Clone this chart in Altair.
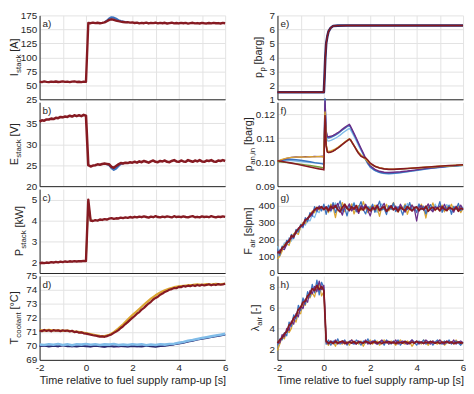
import altair as alt
import pandas as pd

FONT = "Liberation Sans"
DR = "#861a22"
BLUE = "#3b73bf"
LBLUE = "#80bce8"
YEL = "#dba632"
PURP = "#6a2d87"
GRN = "#7a9c3c"
NAVY = "#27286e"
TXT = "#262626"

# sampling grids (s)
T = [round(-2 + 0.1 * i, 1) for i in range(81)]
T2 = [round(-2 + 0.2 * i, 1) for i in range(41)]
T_BUMP_A = [0.8, 0.9, 1.0, 1.1, 1.2, 1.3, 1.4, 1.5, 1.6, 1.7, 1.8]
T_DIP_B = [0.9, 1.0, 1.1, 1.2, 1.3, 1.4, 1.5, 1.6]
T_SPIKE_C = [-0.2, -0.1, 0.0, 0.1, 0.2, 0.3]
T_E = [-2.0, -1.0, 0.0, 0.03, 0.06, 0.1, 0.15, 0.2, 0.3, 0.4, 0.6, 1.0, 2.0, 3.0, 4.0, 5.0, 6.0]
T_F = [-2.0, -1.8, -1.6, -1.4, -1.2, -1.0, -0.8, -0.6, -0.4, -0.2, -0.05, 0.0, 0.05, 0.1, 0.15, 0.2,
       0.3, 0.4, 0.5, 0.6, 0.7, 0.8, 0.9, 1.0, 1.1, 1.15, 1.2, 1.3, 1.4, 1.5, 1.6, 1.7, 1.8, 1.9, 2.0,
       2.2, 2.4, 2.6, 2.8, 3.0, 3.3, 3.6, 3.9, 4.2, 4.5, 4.8, 5.1, 5.4, 5.7, 6.0]

# a) stack current [A]
I_DR = [56.5, 55.8, 56.9, 56.2, 55.6, 56.7, 56.0, 56.8, 55.9, 56.4, 57.0, 56.1, 56.6, 55.7, 56.5, 56.9, 56.0, 56.3, 55.8, 56.6, 56.2,
        161.5,
        161.0, 162.0, 161.2, 161.8, 160.9, 161.6, 162.5, 164.5, 167.0, 168.0, 167.2, 165.8, 164.6, 163.8, 163.2, 162.6, 162.9, 162.1, 162.5,
        161.4, 162.1, 160.8, 161.7, 161.0, 162.0, 160.6, 161.5, 161.1, 161.9, 160.7, 161.6, 160.9, 161.8, 160.5, 161.3, 161.9, 160.8, 161.4, 160.6,
        161.7, 160.9, 161.5, 160.4, 161.2, 161.8, 160.7, 161.3, 160.5, 161.6, 161.0, 160.6, 161.4, 160.8, 161.7, 160.9, 161.3, 160.5, 161.6, 161.0]
I_BLUE = [162.5, 165.5, 169.5, 171.5, 171.0, 169.0, 166.5, 165.0, 164.0, 163.2, 162.8]

# b) stack voltage [V]
E_DR = [35.4, 35.7, 35.6, 35.9, 35.9, 36.1, 36.0, 36.3, 36.2, 36.5, 36.4, 36.6, 36.5, 36.8, 36.6, 36.9, 36.7, 36.9, 36.7, 37.0, 36.8,
        25.0,
        24.7, 24.9, 25.0, 25.2, 25.1, 25.3, 25.4, 25.3, 25.2, 24.6, 24.4, 24.8, 25.2, 25.5, 25.4, 25.6, 25.5, 25.7, 25.6,
        25.8, 25.6, 25.9, 25.7, 26.0, 25.8, 25.6, 25.9, 26.1, 25.8, 25.7, 26.0, 25.9, 26.1, 25.8, 25.7, 26.0, 26.2, 25.9, 25.8,
        26.1, 25.9, 25.8, 26.2, 26.0, 25.8, 26.1, 25.9, 26.2, 25.9, 25.8, 26.1, 26.0, 26.2, 25.9, 25.8, 26.1, 26.0, 26.2, 26.0]
E_BLUE = [25.3, 25.0, 24.3, 23.9, 24.2, 24.8, 25.3, 25.4]

# c) stack power [kW]
P_DR = [1.96, 1.99, 1.97, 2.00, 1.98, 2.02, 2.00, 2.03, 2.01, 2.04, 2.02, 2.05, 2.03, 2.06, 2.04, 2.07, 2.05, 2.07, 2.06, 2.08, 2.07,
        5.0,
        4.00, 3.98, 4.02, 4.00, 4.05, 4.03, 4.07, 4.05, 4.09, 4.12, 4.08, 4.11, 4.10, 4.14, 4.12, 4.15, 4.13, 4.17, 4.14,
        4.18, 4.15, 4.19, 4.16, 4.20, 4.17, 4.14, 4.19, 4.16, 4.21, 4.17, 4.15, 4.19, 4.16, 4.20, 4.18, 4.15, 4.21, 4.17, 4.19,
        4.16, 4.20, 4.17, 4.15, 4.19, 4.21, 4.16, 4.18, 4.15, 4.20, 4.17, 4.19, 4.16, 4.21, 4.18, 4.15, 4.19, 4.17, 4.20, 4.18]
P_GRN = [2.07, 2.08, 2.09, 4.85, 4.03, 4.00]

# d) coolant temperature [°C]
TC_DR = [71.10, 71.05, 71.14, 71.07, 71.12, 71.04, 71.13, 71.08, 71.11, 71.05, 71.12, 71.07, 71.10, 71.03, 71.08, 70.98, 71.02, 70.94, 70.97, 70.90, 70.88,
         70.84, 70.80, 70.76, 70.74, 70.70, 70.66, 70.68, 70.65, 70.70, 70.76, 70.82, 70.93, 71.02, 71.13, 71.28, 71.40, 71.56, 71.70, 71.86, 72.00,
         72.14, 72.30, 72.42, 72.60, 72.72, 72.88, 73.03, 73.15, 73.32, 73.43, 73.52, 73.66, 73.74, 73.86, 73.92, 74.02, 74.06, 74.14, 74.12, 74.22,
         74.20, 74.28, 74.24, 74.31, 74.27, 74.34, 74.28, 74.36, 74.30, 74.38, 74.32, 74.36, 74.41, 74.33, 74.39, 74.35, 74.42, 74.37, 74.40, 74.44]
TC_YEL = [71.14, 71.09, 71.15, 71.10, 71.12, 71.08, 71.10, 71.05, 71.02, 70.97, 70.92,
          70.85, 70.78, 70.72, 70.70, 70.80, 70.98, 71.25, 71.55, 71.88, 72.20,
          72.50, 72.80, 73.10, 73.38, 73.62, 73.82, 73.98, 74.10, 74.20, 74.26,
          74.30, 74.34, 74.36, 74.40, 74.37, 74.42, 74.39, 74.43, 74.41, 74.45]
TC_LBLUE = [70.10, 70.06, 70.12, 70.08, 70.13, 70.07, 70.11, 70.05, 70.12, 70.09, 70.14,
            70.08, 70.12, 70.06, 70.11, 70.09, 70.13, 70.07, 70.10, 70.06, 70.12,
            70.08, 70.11, 70.05, 70.10, 70.07, 70.12, 70.09, 70.14, 70.16, 70.22,
            70.28, 70.36, 70.42, 70.50, 70.56, 70.62, 70.68, 70.74, 70.80, 70.86]
TC_NAVY = [69.98, 70.02, 69.95, 70.00, 69.96, 70.03, 69.97, 69.99, 69.94, 70.01, 69.97,
           69.95, 70.00, 69.96, 69.93, 69.98, 69.95, 70.00, 69.96, 69.94, 69.99,
           69.97, 69.95, 70.00, 69.96, 69.93, 69.98, 70.00, 70.05, 70.10, 70.16,
           70.22, 70.30, 70.36, 70.44, 70.50, 70.56, 70.62, 70.68, 70.74, 70.80]
TC_PURP = [70.04, 69.99, 70.06, 70.01, 69.97, 70.05, 70.02, 69.96, 70.03, 69.98, 70.01,
           69.96, 70.03, 69.99, 69.95, 70.02, 69.97, 69.95, 70.01, 69.97, 70.00,
           69.96, 70.02, 69.98, 70.03, 69.99, 70.01, 70.04, 70.09, 70.13, 70.20,
           70.25, 70.33, 70.40, 70.46, 70.53, 70.59, 70.65, 70.71, 70.77, 70.83]

# e) pressure p_p [barg]
PP = [1.5, 1.5, 1.5, 2.6, 3.9, 5.0, 5.5, 5.85, 6.12, 6.24, 6.27, 6.28, 6.28, 6.28, 6.28, 6.28, 6.28]

# f) anode inlet pressure [barg]
PAN_PURP = [0.1004, 0.1010, 0.1016, 0.1020, 0.1022, 0.1021, 0.1023, 0.1022, 0.1024, 0.1023, 0.1025, 0.1020, 0.1255,
            0.1130, 0.1108, 0.1106, 0.1108, 0.1112, 0.1117, 0.1123, 0.1130, 0.1138, 0.1145, 0.1152, 0.1158, 0.1150, 0.1140,
            0.1120, 0.1100, 0.1079, 0.1058, 0.1038, 0.1016, 0.0998, 0.0985, 0.0970, 0.0962, 0.0958, 0.0957, 0.0958, 0.0960,
            0.0963, 0.0967, 0.0971, 0.0975, 0.0978, 0.0981, 0.0984, 0.0986, 0.0988]
PAN_BLUE = [0.1002, 0.1008, 0.1011, 0.1012, 0.1010, 0.1008, 0.1005, 0.1002, 0.0998, 0.0995, 0.0993, 0.0990, 0.1265,
            0.1125, 0.1103, 0.1101, 0.1104, 0.1108, 0.1113, 0.1119, 0.1126, 0.1134, 0.1141, 0.1148, 0.1153, 0.1146, 0.1136,
            0.1116, 0.1096, 0.1075, 0.1054, 0.1034, 0.1012, 0.0994, 0.0980, 0.0966, 0.0958, 0.0954, 0.0953, 0.0954, 0.0957,
            0.0961, 0.0965, 0.0969, 0.0973, 0.0977, 0.0980, 0.0983, 0.0985, 0.0987]
PAN_LBLUE = [0.1003, 0.1006, 0.1008, 0.1007, 0.1005, 0.1003, 0.1001, 0.0999, 0.0997, 0.0996, 0.0995, 0.0993, 0.1240,
             0.1110, 0.1090, 0.1088, 0.1091, 0.1095, 0.1100, 0.1106, 0.1113, 0.1121, 0.1128, 0.1135, 0.1141, 0.1135, 0.1126,
             0.1108, 0.1089, 0.1069, 0.1050, 0.1031, 0.1010, 0.0992, 0.0978, 0.0965, 0.0957, 0.0953, 0.0952, 0.0953, 0.0956,
             0.0960, 0.0964, 0.0968, 0.0972, 0.0976, 0.0979, 0.0982, 0.0984, 0.0986]
PAN_YEL = [0.1003, 0.1012, 0.1017, 0.1020, 0.1021, 0.1022, 0.1021, 0.1023, 0.1022, 0.1024, 0.1023, 0.1018, 0.1210,
           0.1075, 0.1048, 0.1045, 0.1047, 0.1051, 0.1056, 0.1062, 0.1069, 0.1076, 0.1084, 0.1091, 0.1098, 0.1094, 0.1086,
           0.1070, 0.1054, 0.1040, 0.1030, 0.1022, 0.1013, 0.1003, 0.0994, 0.0983, 0.0977, 0.0973, 0.0971, 0.0971, 0.0972,
           0.0974, 0.0976, 0.0978, 0.0980, 0.0982, 0.0984, 0.0985, 0.0987, 0.0988]
PAN_GRN = [0.1002, 0.1000, 0.0998, 0.0996, 0.0994, 0.0992, 0.0989, 0.0986, 0.0983, 0.0980, 0.0977, 0.0975, 0.1200,
           0.1070, 0.1044, 0.1041, 0.1043, 0.1047, 0.1053, 0.1060, 0.1067, 0.1075, 0.1083, 0.1090, 0.1096, 0.1092, 0.1084,
           0.1068, 0.1052, 0.1039, 0.1029, 0.1021, 0.1012, 0.1002, 0.0993, 0.0982, 0.0976, 0.0972, 0.0970, 0.0970, 0.0971,
           0.0973, 0.0975, 0.0977, 0.0979, 0.0981, 0.0983, 0.0985, 0.0986, 0.0987]
PAN_DR = [0.1006, 0.1003, 0.1000, 0.0996, 0.0992, 0.0988, 0.0984, 0.0980, 0.0976, 0.0972, 0.0970, 0.0968, 0.1195,
          0.1068, 0.1042, 0.1040, 0.1042, 0.1046, 0.1052, 0.1059, 0.1066, 0.1074, 0.1082, 0.1089, 0.1096, 0.1093, 0.1085,
          0.1069, 0.1052, 0.1036, 0.1025, 0.1020, 0.1018, 0.1008, 0.0996, 0.0983, 0.0976, 0.0972, 0.0970, 0.0970, 0.0972,
          0.0974, 0.0976, 0.0978, 0.0980, 0.0982, 0.0984, 0.0986, 0.0987, 0.0989]

# g) air flow [slpm]
F_DR = [127, 120, 150, 158, 182, 190, 222, 215, 248, 262, 280, 290, 318, 322, 345, 360, 376, 390, 384, 395, 378,
        392, 370, 398, 385, 402, 378, 365, 392, 410, 386, 372, 395, 380, 402, 368, 388, 375, 396, 384, 370,
        390, 378, 400, 372, 386, 395, 368, 382, 398, 376, 388, 366, 392, 380, 374, 396, 382, 370, 388, 394,
        372, 386, 378, 398, 368, 384, 392, 376, 388, 370, 395, 380, 372, 390, 384, 376, 392, 368, 386, 380]
F_BLUE = [140, 105, 160, 150, 195, 180, 230, 205, 260, 245, 290, 270, 330, 305, 360, 340, 395, 365, 400, 370, 410,
          350, 405, 375, 420, 360, 395, 430, 372, 388, 340, 400, 382, 415, 365, 390, 425, 378, 352, 396, 380,
          410, 362, 392, 428, 375, 385, 348, 402, 380, 418, 366, 395, 385, 345, 405, 378, 420, 370, 392, 360,
          412, 380, 398, 352, 388, 408, 370, 395, 384, 425, 362, 390, 378, 405, 350, 395, 380, 415, 372, 390]
F_YEL = [85, 100, 130, 170, 175, 165, 210, 235, 240, 230, 275, 300, 295, 330, 340, 370, 360, 392, 375, 385, 400,
         380, 360, 410, 392, 330, 398, 385, 420, 365, 395, 378, 412, 352, 390, 402, 372, 425, 385, 360, 398,
         376, 405, 388, 338, 395, 382, 410, 370, 392, 420, 385, 362, 398, 378, 412, 350, 390, 405, 375, 395,
         368, 410, 385, 328, 400, 380, 418, 372, 392, 386, 405, 365, 395, 380, 410, 372, 388, 398, 360, 385]
F_PURP = [115, 135, 145, 140, 170, 200, 205, 228, 235, 268, 275, 282, 310, 330, 335, 350, 380, 375, 398, 388, 385,
          395, 382, 372, 405, 390, 415, 376, 345, 398, 385, 412, 370, 392, 380, 355, 402, 388, 410, 372, 340,
          395, 384, 406, 376, 392, 415, 368, 388, 402, 380, 398, 372, 410, 385, 362, 392, 378, 405, 384, 310,
          390, 402, 375, 388, 412, 378, 365, 395, 385, 400, 380, 410, 372, 392, 386, 362, 398, 380, 405, 375]
F_LBLUE = [160, 130, 145, 180, 165, 210, 190, 225, 250, 240, 270, 300, 285, 320, 310, 345, 330, 370, 360, 395, 390,
           378, 400, 365, 392, 418, 380, 395, 360, 405, 388, 372, 398, 420, 382, 366, 394, 378, 408, 390, 374,
           400, 380, 362, 396, 412, 385, 370, 392, 378, 408, 392, 375, 400, 386, 368, 415, 382, 396, 370, 390,
           405, 378, 392, 365, 400, 388, 376, 410, 382, 396, 372, 390, 408, 380, 366, 398, 384, 374, 400, 388]

# h) air stoichiometry [-]
L_DR = [2.6, 2.9, 3.1, 3.5, 3.7, 4.3, 4.5, 5.0, 5.2, 5.8, 6.0, 6.5, 6.6, 7.1, 7.3, 7.8, 7.6, 8.1, 7.7, 8.0, 7.6,
        2.8, 2.6, 2.7, 2.55, 2.75, 2.6, 2.7, 2.8, 2.55, 2.65, 2.7, 2.6, 2.75, 2.55, 2.7, 2.65, 2.6, 2.75, 2.7, 2.55,
        2.65, 2.75, 2.6, 2.7, 2.55, 2.7, 2.65, 2.75, 2.6, 2.7, 2.55, 2.7, 2.65, 2.6, 2.75, 2.65, 2.55, 2.7, 2.6, 2.75,
        2.65, 2.7, 2.55, 2.7, 2.6, 2.75, 2.65, 2.6, 2.7, 2.55, 2.7, 2.65, 2.75, 2.6, 2.7, 2.55, 2.65, 2.7, 2.6, 2.65]
L_BLUE = [2.4, 3.0, 2.9, 3.6, 3.3, 4.6, 4.2, 5.3, 4.9, 6.2, 5.7, 6.9, 6.3, 7.5, 7.0, 8.2, 7.4, 8.6, 7.2, 8.4, 7.9,
          2.5, 2.9, 2.4, 2.8, 2.6, 3.0, 2.5, 2.7, 2.9, 2.4, 2.8, 2.6, 2.5, 2.9, 2.7, 2.4, 2.8, 2.6, 3.0, 2.5,
          2.7, 2.9, 2.5, 2.6, 2.8, 2.4, 2.9, 2.7, 2.5, 2.8, 2.6, 2.9, 2.4, 2.7, 2.8, 2.5, 2.6, 2.9, 2.7, 2.4,
          2.8, 2.6, 2.9, 2.5, 2.7, 2.8, 2.4, 2.7, 2.9, 2.6, 2.5, 2.8, 2.6, 2.9, 2.5, 2.7, 2.8, 2.6, 2.4, 2.7]
L_YEL = [1.9, 2.5, 3.2, 3.0, 3.8, 3.6, 4.0, 4.9, 4.6, 5.5, 5.4, 6.4, 6.2, 7.2, 6.9, 7.4, 7.0, 7.9, 8.3, 7.1, 7.5,
         2.6, 2.4, 2.8, 2.7, 2.3, 2.9, 2.6, 2.5, 2.8, 2.7, 2.4, 2.9, 2.6, 2.7, 2.5, 2.8, 2.3, 2.7, 2.6, 2.9,
         2.5, 2.7, 2.8, 2.4, 2.6, 2.9, 2.7, 2.5, 2.8, 2.6, 2.4, 2.7, 2.9, 2.6, 2.5, 2.8, 2.7, 2.3, 2.6, 2.8,
         2.7, 2.5, 2.9, 2.6, 2.4, 2.7, 2.8, 2.6, 2.5, 2.9, 2.7, 2.4, 2.6, 2.8, 2.7, 2.5, 2.9, 2.6, 2.7, 2.5]
L_PURP = [2.7, 2.6, 3.4, 3.2, 4.0, 3.8, 4.7, 4.4, 5.4, 5.1, 6.1, 5.9, 6.8, 6.5, 7.6, 7.3, 8.0, 7.5, 8.5, 7.7, 8.1,
          2.7, 2.5, 2.8, 2.6, 2.9, 2.5, 2.7, 2.6, 2.8, 2.5, 2.7, 2.9, 2.6, 2.5, 2.8, 2.7, 2.6, 2.9, 2.5, 2.7,
          2.8, 2.6, 2.5, 2.7, 2.9, 2.6, 2.8, 2.5, 2.7, 2.6, 2.9, 2.5, 2.7, 2.8, 2.6, 2.5, 2.7, 2.9, 2.6, 2.8,
          2.5, 2.7, 2.6, 2.9, 2.7, 2.5, 2.8, 2.6, 2.7, 2.9, 2.6, 2.5, 2.8, 2.7, 2.6, 2.9, 2.5, 2.7, 2.8, 2.6]

W = 188
H = 85

AW = {' ': .278, '[': .278, ']': .278, 'A': .667, 'V': .667, 'k': .5, 'W': .944, '°': .4, 'C': .722,
      'b': .556, 'a': .556, 'r': .333, 'g': .556, 's': .5, 'l': .222, 'p': .556, 'm': .833, '-': .333,
      'I': .278, 'E': .667, 'P': .667, 'T': .611, 'F': .611, 'λ': .5, 't': .278, 'c': .5, 'o': .556,
      'n': .556, 'i': .222, ',': .278, 'u': .556, 'e': .556}


def tw(s, size):
    return sum(AW.get(ch, 0.55) for ch in s) * size


ONE = alt.Data(values=[{"k": 0}])


def ytitle(main, sub, rest, xb):
    fm, fs = 11, 8
    gap = 0.278 * fm
    wm, ws, wr = tw(main, fm), tw(sub, fs), tw(rest, fm)
    total = wm + ws + gap + wr
    y0 = H / 2 + total / 2
    kw = dict(angle=270, align="left", baseline="alphabetic", font=FONT, color=TXT)
    return [
        alt.Chart(ONE).mark_text(text=main, fontSize=fm, **kw).encode(x=alt.value(xb), y=alt.value(y0)),
        alt.Chart(ONE).mark_text(text=sub, fontSize=fs, **kw).encode(x=alt.value(xb + 3.5), y=alt.value(y0 - wm - 0.3)),
        alt.Chart(ONE).mark_text(text=rest, fontSize=fm, **kw).encode(x=alt.value(xb), y=alt.value(y0 - wm - ws - gap)),
    ]


def panel(series, ydom, yvals, fmt, letter, title, xb, bottom):
    if bottom:
        xax = alt.Axis(values=list(range(-2, 7)), labelExpr="datum.value % 2 == 0 ? '' + datum.value : ''",
                       grid=True, ticks=False, labelPadding=3, titlePadding=2, labelFlush=False,
                       title="Time relative to fuel supply ramp-up [s]")
    else:
        xax = alt.Axis(values=list(range(-2, 7)), grid=True, ticks=False, labels=False, title=None)
    yax = alt.Axis(values=yvals, format=fmt, grid=True, ticks=False, labelPadding=3, title=None)
    layers = []
    for (tt, vv, col, sw) in series:
        df = pd.DataFrame({"t": tt, "v": vv})
        layers.append(
            alt.Chart(df).mark_line(color=col, strokeWidth=sw, strokeJoin="round").encode(
                x=alt.X("t:Q", scale=alt.Scale(domain=[-2, 6], nice=False, zero=False), axis=xax),
                y=alt.Y("v:Q", scale=alt.Scale(domain=ydom, nice=False, zero=False), axis=yax),
            )
        )
    layers.append(alt.Chart(ONE).mark_text(text=letter, fontSize=10, font=FONT, color=TXT, align="left",
                                           baseline="middle").encode(x=alt.value(3), y=alt.value(9)))
    layers += ytitle(*title, xb)
    return alt.layer(*layers).properties(width=W, height=H)


pa = panel([(T_BUMP_A, I_BLUE, BLUE, 2.2), (T, I_DR, DR, 2.4)], [25, 175], [25, 50, 75, 100, 125, 150, 175], "d",
           "a)", ("I", "stack", "[A]"), -22, False)
pb = panel([(T_DIP_B, E_BLUE, BLUE, 2.2), (T, E_DR, DR, 2.6)], [20, 40], [20, 25, 30, 35], "d",
           "b)", ("E", "stack", "[V]"), -22, False)
pc = panel([(T_SPIKE_C, P_GRN, GRN, 1.6), (T, P_DR, DR, 2.4)], [1.5, 5.5], [2, 3, 4, 5], "d",
           "c)", ("P", "stack", "[kW]"), -17, False)
pd_ = panel([(T2, TC_PURP, PURP, 1.8), (T2, TC_NAVY, NAVY, 1.8), (T2, TC_LBLUE, LBLUE, 2.6),
             (T2, TC_YEL, YEL, 2.2), (T, TC_DR, DR, 2.2)], [69, 75], [69, 70, 71, 72, 73, 74, 75], "d",
            "d)", ("T", "coolant", "[°C]"), -22, True)

pe = panel([(T_E, PP, NAVY, 2.6), (T_E, PP, DR, 1.4)], [1, 7], [1, 2, 3, 4, 5, 6, 7], "d",
           "e)", ("p", "p", "[barg]"), -16, False)
pf = panel([(T_F, PAN_LBLUE, LBLUE, 1.4), (T_F, PAN_BLUE, BLUE, 1.4), (T_F, PAN_PURP, PURP, 1.4),
            (T_F, PAN_GRN, GRN, 1.4), (T_F, PAN_YEL, YEL, 1.4), (T_F, PAN_DR, DR, 1.6)],
           [0.09, 0.125], [0.09, 0.10, 0.11, 0.12], ".2f", "f)", ("p", "an,in", "[barg]"), -26, False)
pg = panel([(T, F_LBLUE, LBLUE, 1.3), (T, F_YEL, YEL, 1.3), (T, F_BLUE, BLUE, 1.3), (T, F_PURP, PURP, 1.3),
            (T, F_DR, DR, 1.8)], [0, 500], [0, 100, 200, 300, 400], "d", "g)", ("F", "air", "[slpm]"), -26, False)
ph = panel([(T, L_YEL, YEL, 1.3), (T, L_BLUE, BLUE, 1.3), (T, L_PURP, PURP, 1.3), (T, L_DR, DR, 1.8)],
           [1, 9], [2, 4, 6, 8], "d", "h)", ("λ", "air", "[-]"), -19, True)

left = alt.vconcat(pa, pb, pc, pd_, spacing=3, bounds="flush")
right = alt.vconcat(pe, pf, pg, ph, spacing=3, bounds="flush")

chart = alt.hconcat(left, right, spacing=15).properties(
    padding={"left": 0, "top": 0, "right": 0, "bottom": 0}
).configure_view(stroke=None).configure_axis(
    domainColor=TXT, domainWidth=1, gridColor="#e3e3e3", gridWidth=1,
    labelColor=TXT, labelFont=FONT, labelFontSize=10,
    titleColor=TXT, titleFont=FONT, titleFontSize=11, titleFontWeight="normal",
)

chart.save("out.html", embed_options={"renderer": "svg", "actions": False})
